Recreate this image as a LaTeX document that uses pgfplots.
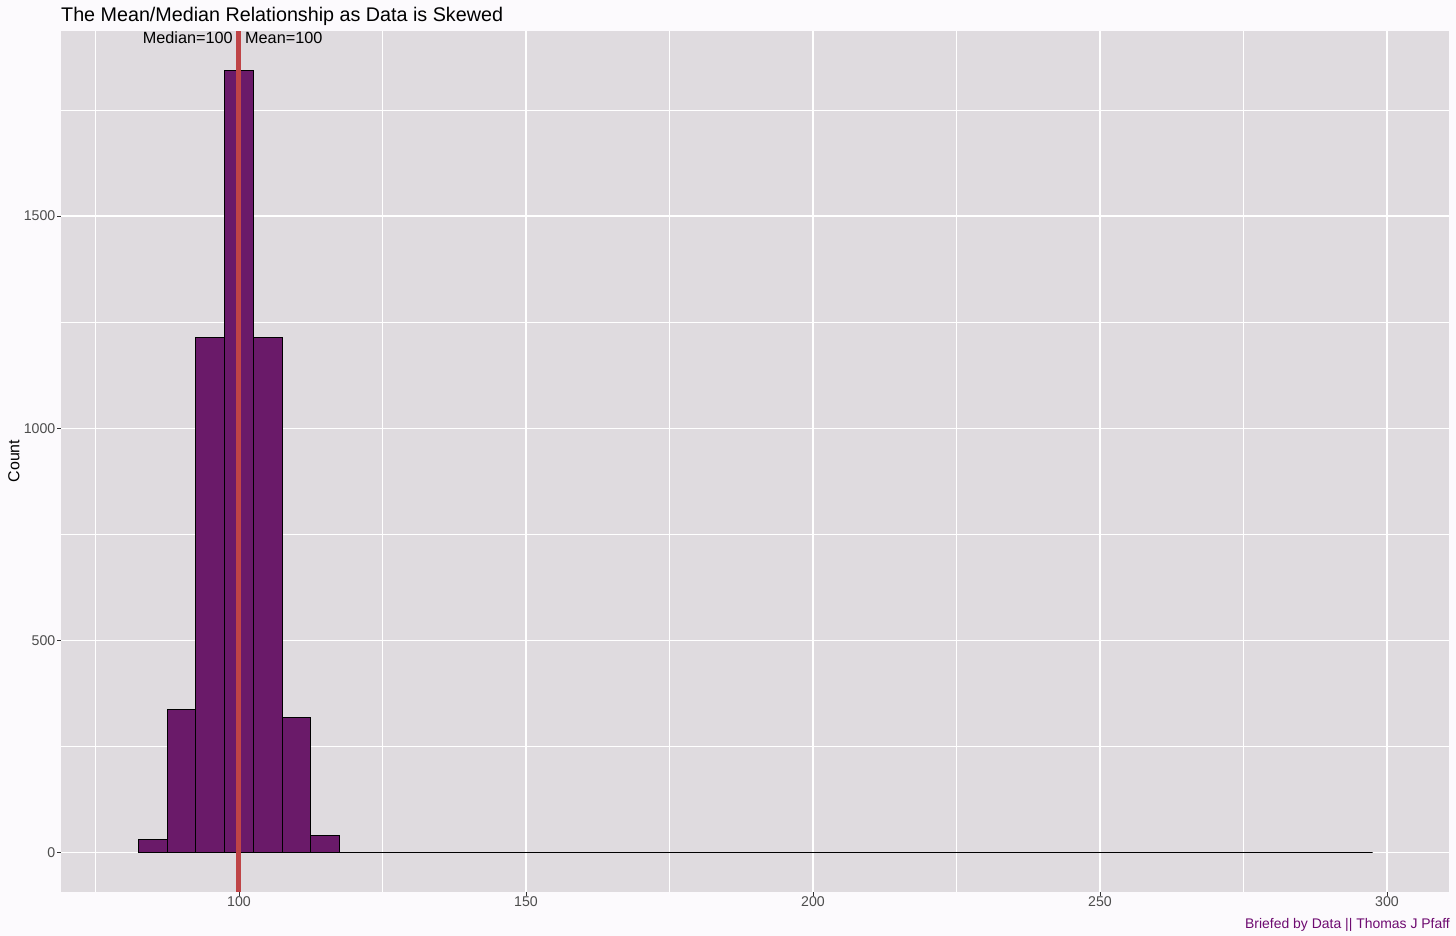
\documentclass[border=0pt]{standalone}
\usepackage{pgfplots}
\pgfplotsset{compat=1.18}
\usepackage{fontspec}
\setmainfont{Liberation Sans}
\definecolor{bgc}{HTML}{FCFAFD}
\definecolor{panel}{HTML}{DFDBDF}
\definecolor{barc}{HTML}{6A1A69}
\definecolor{redl}{HTML}{BF4447}
\definecolor{tickc}{HTML}{4D4D4D}
\definecolor{capc}{HTML}{6E0A70}
\begin{document}
\begin{tikzpicture}
\fill[bgc] (0,0) rectangle (1456bp,936bp);
\useasboundingbox (0,0) rectangle (1456bp,936bp);
\begin{axis}[
  at={(61bp,44.3bp)}, anchor=south west,
  scale only axis, width=1388bp, height=860.7bp,
  xmin=69.0, xmax=310.8, ymin=-92.4, ymax=1936,
  xtick={100,150,200,250,300},
  minor xtick={75,125,175,225,275},
  ytick={0,500,1000,1500},
  minor ytick={250,750,1250,1750},
  xtick pos=bottom, ytick pos=left,
  grid=both,
  major grid style={white, line width=1.1bp},
  minor grid style={white, line width=0.7bp},
  axis background/.style={fill=panel},
  axis line style={draw=none},
  tick align=outside,
  major tick length=4bp, minor tick length=0pt,
  tick style={color=black!80, line width=0.8bp},
  /pgf/number format/assume math mode=true,
  /pgf/number format/1000 sep={},
  ticklabel style={font=\fontsize{14.2}{16}\selectfont, text=tickc},
  xticklabel style={inner sep=1pt},
  yticklabel style={inner sep=1.5pt},
]
\addplot[ybar interval, fill=barc, draw=black, line width=1bp] coordinates {
(82.5,31) (87.5,338) (92.5,1213) (97.5,1844) (102.5,1213) (107.5,319) (112.5,41)
(117.5,0) (122.5,0) (127.5,0) (132.5,0) (137.5,0) (142.5,0) (147.5,0) (152.5,0)
(157.5,0) (162.5,0) (167.5,0) (172.5,0) (177.5,0) (182.5,0) (187.5,0) (192.5,0)
(197.5,0) (202.5,0) (207.5,0) (212.5,0) (217.5,0) (222.5,0) (227.5,0) (232.5,0)
(237.5,0) (242.5,0) (247.5,0) (252.5,0) (257.5,0) (262.5,0) (267.5,0) (272.5,0)
(277.5,0) (282.5,0) (287.5,0) (292.5,0) (297.5,0)
};
\addplot[color=redl, line width=5bp, forget plot] coordinates {(100,-92.4) (100,1936)};
\node[anchor=base east, inner sep=0pt, font=\fontsize{16.3}{19}\selectfont] at (axis cs:98.95,1905.5) {Median=100};
\node[anchor=base west, inner sep=0pt, font=\fontsize{16.3}{19}\selectfont] at (axis cs:101.05,1905.5) {Mean=100};
\end{axis}
\node[anchor=base west, inner sep=0pt, font=\fontsize{19.8}{23}\selectfont] at (61bp,914.3bp) {The Mean/Median Relationship as Data is Skewed};
\node[anchor=base, rotate=90, inner sep=0pt, font=\fontsize{16}{19}\selectfont] at (19.3bp,475bp) {Count};
\node[anchor=base east, inner sep=0pt, text=capc, font=\fontsize{14}{16}\selectfont] at (1450bp,7.7bp) {Briefed by Data || Thomas J Pfaff};
\end{tikzpicture}
\end{document}
